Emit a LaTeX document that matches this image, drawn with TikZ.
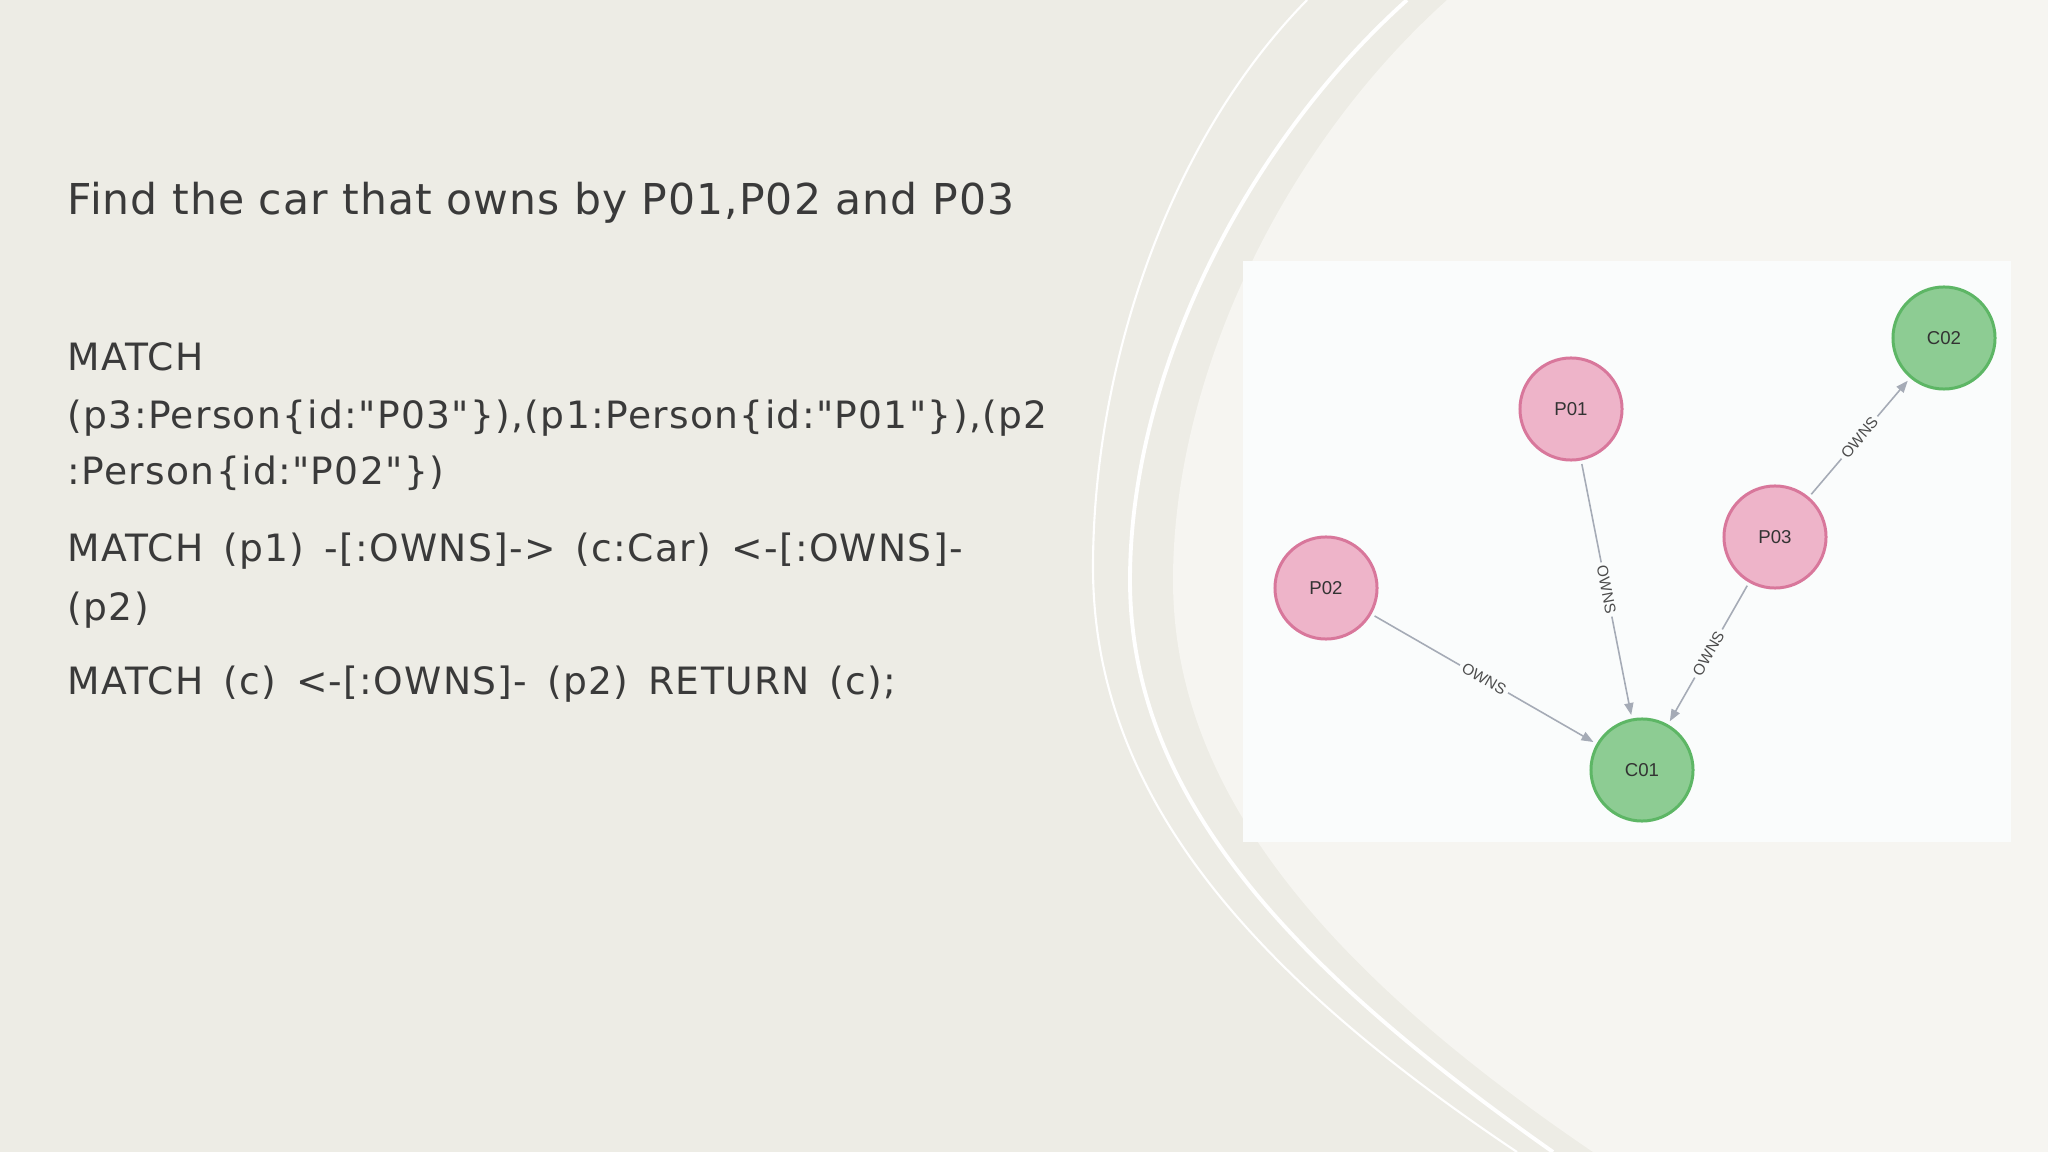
\documentclass[tikz,border=0pt]{standalone}
\usepackage{fontspec}
\setmainfont{DejaVu Sans}
\newfontfamily\titlefont[LetterSpace=2.4]{DejaVu Sans}
\newfontfamily\codefont[LetterSpace=3.5, WordSpace=1.5]{DejaVu Sans}
\newfontfamily\graphfont{Liberation Sans}
\usetikzlibrary{arrows.meta}

\definecolor{slidebg}{HTML}{EDECE5}
\definecolor{slidelight}{HTML}{F6F5F1}
\definecolor{panelbg}{HTML}{FAFCFC}
\definecolor{textgray}{HTML}{3A3A3A}
\definecolor{personfill}{HTML}{EEB4C9}
\definecolor{persondraw}{HTML}{D8779B}
\definecolor{carfill}{HTML}{8DCC93}
\definecolor{cardraw}{HTML}{5DB665}
\definecolor{relgray}{HTML}{A5ABB6}

\tikzset{
  titleline/.style={anchor=base west, inner sep=0pt, text=textgray,
    font=\titlefont\fontsize{12.1}{14}\selectfont},
  codeline/.style={anchor=base west, inner sep=0pt, text=textgray,
    font=\codefont\fontsize{10.7}{12}\selectfont},
  gnode/.style={circle, minimum size=1.02cm, inner sep=0pt, line width=0.85pt,
    text=black!80, font=\graphfont\fontsize{5.3}{6}\selectfont},
  person/.style={gnode, fill=personfill, draw=persondraw},
  car/.style={gnode, fill=carfill, draw=cardraw},
  owns/.style={draw=relgray, line width=0.45pt, shorten <=1pt, shorten >=1pt,
    -{Triangle[length=3.4pt,width=2.6pt]}},
  ownslabel/.style={sloped, fill=panelbg, inner sep=1pt, text=black!70,
    font=\graphfont\fontsize{4.4}{5}\selectfont}
}

\begin{document}
\begin{tikzpicture}[x=0.01cm, y=-0.01cm]
\useasboundingbox (0,0) rectangle (2048,1152);

\fill [slidebg] (0,0) rectangle (2048,1152);
\fill [slidelight] (1447,0) .. controls (1280,150) and (1173,380) .. (1173,580)
  .. controls (1173,780) and (1310,960) .. (1593,1152) -- (2048,1152) -- (2048,0) -- cycle;
\draw [white, line width=0.6pt] (1307,0) .. controls (1160,150) and (1093,380) .. (1093,567)
  .. controls (1093,780) and (1230,960) .. (1517,1152);
\draw [white, line width=1.1pt] (1407,0) .. controls (1240,150) and (1130,380) .. (1130,580)
  .. controls (1130,790) and (1280,960) .. (1553,1152);

\node [titleline] (title) at (67,215) {Find the car that owns by P01,P02 and P03};

\node [codeline] (q1) at (67,371) {MATCH};
\node [codeline] (q2) at (67,429) {(p3:Person\{id:"P03"\}),(p1:Person\{id:"P01"\}),(p2};
\node [codeline] (q3) at (67,485) {:Person\{id:"P02"\})};
\node [codeline] (q4) at (67,562) {MATCH (p1) -[:OWNS]-> (c:Car) <-[:OWNS]-};
\node [codeline] (q5) at (67,620) {(p2)};
\node [codeline] (q6) at (67,695) {MATCH (c) <-[:OWNS]- (p2) RETURN (c);};

\fill [panelbg] (1243,261) rectangle (2011,842);

\node [person] (p01) at (1571,409) {P01};
\node [person] (p02) at (1326,588) {P02};
\node [person] (p03) at (1775,537) {P03};
\node [car] (c01) at (1642,770) {C01};
\node [car] (c02) at (1944,338) {C02};

\draw [owns] (p02) -- node [ownslabel] {OWNS} (c01);
\draw [owns] (p01) -- node [ownslabel] {OWNS} (c01);
\draw [owns] (p03) -- node [ownslabel] {OWNS} (c01);
\draw [owns] (p03) -- node [ownslabel] {OWNS} (c02);

\end{tikzpicture}
\end{document}
